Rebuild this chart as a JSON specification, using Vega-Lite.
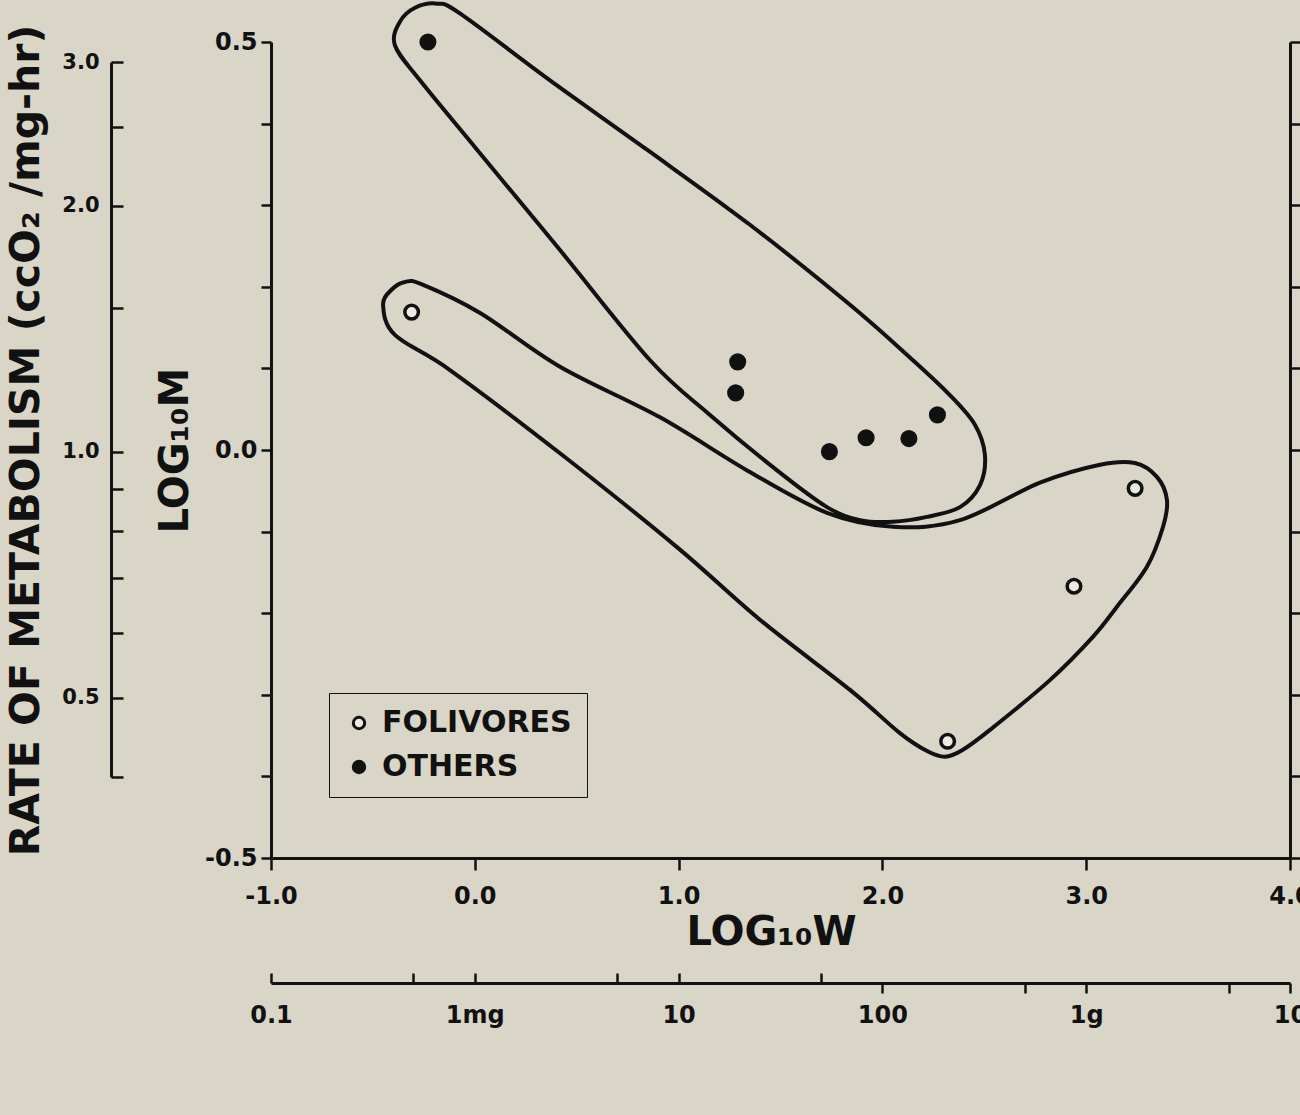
{
  "$schema": "https://vega.github.io/schema/vega-lite/v6.json",
  "width": 1019,
  "height": 816,
  "autosize": "none",
  "padding": {"left": 271, "top": 42, "right": 10, "bottom": 257},
  "background": "#d9d6c7",
  "config": {
    "view": {"stroke": null},
    "font": "DejaVu Sans",
    "axis": {
      "grid": false,
      "domainColor": "#111111",
      "tickColor": "#111111",
      "labelColor": "#111111",
      "titleColor": "#111111",
      "labelFont": "DejaVu Sans",
      "titleFont": "DejaVu Sans",
      "labelFontWeight": "bold",
      "titleFontWeight": "bold",
      "domainWidth": 3,
      "tickWidth": 2.5,
      "labelFlush": false,
      "labelOverlap": false
    }
  },
  "datasets": {
    "hulls": [
      {"group": "OTHERS", "ord": 1, "x": -0.392, "y": 0.496},
      {"group": "OTHERS", "ord": 2, "x": -0.367, "y": 0.525},
      {"group": "OTHERS", "ord": 3, "x": -0.293, "y": 0.542},
      {"group": "OTHERS", "ord": 4, "x": -0.185, "y": 0.547},
      {"group": "OTHERS", "ord": 5, "x": -0.073, "y": 0.535},
      {"group": "OTHERS", "ord": 6, "x": 0.369, "y": 0.453},
      {"group": "OTHERS", "ord": 7, "x": 0.845, "y": 0.368},
      {"group": "OTHERS", "ord": 8, "x": 1.35, "y": 0.276},
      {"group": "OTHERS", "ord": 9, "x": 1.841, "y": 0.178},
      {"group": "OTHERS", "ord": 10, "x": 2.15, "y": 0.11},
      {"group": "OTHERS", "ord": 11, "x": 2.332, "y": 0.067},
      {"group": "OTHERS", "ord": 12, "x": 2.454, "y": 0.031},
      {"group": "OTHERS", "ord": 13, "x": 2.503, "y": -0.006},
      {"group": "OTHERS", "ord": 14, "x": 2.479, "y": -0.043},
      {"group": "OTHERS", "ord": 15, "x": 2.381, "y": -0.07},
      {"group": "OTHERS", "ord": 16, "x": 2.219, "y": -0.082},
      {"group": "OTHERS", "ord": 17, "x": 2.052, "y": -0.088},
      {"group": "OTHERS", "ord": 18, "x": 1.89, "y": -0.086},
      {"group": "OTHERS", "ord": 19, "x": 1.728, "y": -0.07},
      {"group": "OTHERS", "ord": 20, "x": 1.483, "y": -0.025},
      {"group": "OTHERS", "ord": 21, "x": 1.154, "y": 0.043},
      {"group": "OTHERS", "ord": 22, "x": 0.86, "y": 0.11},
      {"group": "OTHERS", "ord": 23, "x": 0.418, "y": 0.245},
      {"group": "OTHERS", "ord": 24, "x": 0.011, "y": 0.368},
      {"group": "OTHERS", "ord": 25, "x": -0.269, "y": 0.453},
      {"group": "FOLIVORES", "ord": 1, "x": -0.45, "y": 0.178},
      {"group": "FOLIVORES", "ord": 2, "x": -0.406, "y": 0.197},
      {"group": "FOLIVORES", "ord": 3, "x": -0.342, "y": 0.206},
      {"group": "FOLIVORES", "ord": 4, "x": -0.259, "y": 0.203},
      {"group": "FOLIVORES", "ord": 5, "x": 0.026, "y": 0.168},
      {"group": "FOLIVORES", "ord": 6, "x": 0.418, "y": 0.102},
      {"group": "FOLIVORES", "ord": 7, "x": 0.909, "y": 0.04},
      {"group": "FOLIVORES", "ord": 8, "x": 1.336, "y": -0.025},
      {"group": "FOLIVORES", "ord": 9, "x": 1.728, "y": -0.077},
      {"group": "FOLIVORES", "ord": 10, "x": 2.052, "y": -0.094},
      {"group": "FOLIVORES", "ord": 11, "x": 2.381, "y": -0.086},
      {"group": "FOLIVORES", "ord": 12, "x": 2.773, "y": -0.04},
      {"group": "FOLIVORES", "ord": 13, "x": 3.068, "y": -0.018},
      {"group": "FOLIVORES", "ord": 14, "x": 3.239, "y": -0.016},
      {"group": "FOLIVORES", "ord": 15, "x": 3.347, "y": -0.033},
      {"group": "FOLIVORES", "ord": 16, "x": 3.396, "y": -0.061},
      {"group": "FOLIVORES", "ord": 17, "x": 3.377, "y": -0.094},
      {"group": "FOLIVORES", "ord": 18, "x": 3.298, "y": -0.143},
      {"group": "FOLIVORES", "ord": 19, "x": 3.151, "y": -0.192},
      {"group": "FOLIVORES", "ord": 20, "x": 3.033, "y": -0.229},
      {"group": "FOLIVORES", "ord": 21, "x": 2.822, "y": -0.282},
      {"group": "FOLIVORES", "ord": 22, "x": 2.528, "y": -0.343},
      {"group": "FOLIVORES", "ord": 23, "x": 2.391, "y": -0.368},
      {"group": "FOLIVORES", "ord": 24, "x": 2.307, "y": -0.376},
      {"group": "FOLIVORES", "ord": 25, "x": 2.219, "y": -0.369},
      {"group": "FOLIVORES", "ord": 26, "x": 2.086, "y": -0.347},
      {"group": "FOLIVORES", "ord": 27, "x": 1.841, "y": -0.294},
      {"group": "FOLIVORES", "ord": 28, "x": 1.399, "y": -0.208},
      {"group": "FOLIVORES", "ord": 29, "x": 0.992, "y": -0.119},
      {"group": "FOLIVORES", "ord": 30, "x": 0.418, "y": -0.004},
      {"group": "FOLIVORES", "ord": 31, "x": -0.122, "y": 0.098},
      {"group": "FOLIVORES", "ord": 32, "x": -0.392, "y": 0.141}
    ],
    "points": [
      {"group": "FOLIVORES", "logW": -0.31, "logM": 0.169},
      {"group": "FOLIVORES", "logW": 2.32, "logM": -0.357},
      {"group": "FOLIVORES", "logW": 2.94, "logM": -0.167},
      {"group": "FOLIVORES", "logW": 3.24, "logM": -0.047},
      {"group": "OTHERS", "logW": -0.23, "logM": 0.5},
      {"group": "OTHERS", "logW": 1.29, "logM": 0.108},
      {"group": "OTHERS", "logW": 1.28, "logM": 0.07},
      {"group": "OTHERS", "logW": 1.74, "logM": -0.002},
      {"group": "OTHERS", "logW": 1.92, "logM": 0.015},
      {"group": "OTHERS", "logW": 2.13, "logM": 0.014},
      {"group": "OTHERS", "logW": 2.27, "logM": 0.043}
    ],
    "rate": [{"rate": 0.4}, {"rate": 3.0}],
    "weight": [{"mg": 0.1}, {"mg": 10000}]
  },
  "layer": [
    {
      "data": {"name": "hulls"},
      "mark": {"type": "line", "interpolate": "cardinal-closed", "stroke": "#111111", "strokeWidth": 4, "clip": false},
      "encoding": {
        "x": {
          "field": "x", "type": "quantitative",
          "scale": {"domain": [-1, 4], "nice": false, "zero": false},
          "axis": {
            "values": [-1, 0, 1, 2, 3, 4],
            "tickSize": 12,
            "labelPadding": 14,
            "labelFontSize": 24,
            "labelExpr": "datum.value < 0 ? '-' + format(-datum.value, '.1f') : format(datum.value, '.1f')",
            "title": "LOG₁₀W",
            "titleFontSize": 40,
            "titleX": 500,
            "titleY": 54,
            "titleAlign": "center",
            "titleBaseline": "top"
          }
        },
        "y": {
          "field": "y", "type": "quantitative",
          "scale": {"domain": [-0.5, 0.5], "nice": false, "zero": false},
          "axis": {
            "orient": "left",
            "values": [-0.5, -0.4, -0.3, -0.2, -0.1, 0, 0.1, 0.2, 0.3, 0.4, 0.5],
            "tickSize": 10,
            "labelPadding": 4,
            "labelFontSize": 24,
            "labelExpr": "abs(datum.value) < 0.001 ? '0.0' : abs(abs(datum.value) - 0.5) < 0.001 ? (datum.value < 0 ? '-0.5' : '0.5') : ''",
            "title": "LOG₁₀M",
            "titleFontSize": 40,
            "titleX": -96,
            "titleY": 408,
            "titleAngle": -90,
            "titleAlign": "center",
            "titleBaseline": "middle"
          }
        },
        "detail": {"field": "group", "type": "nominal"},
        "order": {"field": "ord", "type": "quantitative"}
      }
    },
    {
      "data": {"name": "points"},
      "mark": {"type": "point", "filled": true, "stroke": "#111111", "strokeWidth": 3.5, "size": 185, "opacity": 1, "clip": false},
      "encoding": {
        "x": {
          "field": "logW", "type": "quantitative",
          "scale": {"domain": [-1, 4], "nice": false, "zero": false},
          "axis": null
        },
        "y": {
          "field": "logM", "type": "quantitative",
          "scale": {"domain": [-0.5, 0.5], "nice": false, "zero": false},
          "axis": {
            "orient": "right",
            "values": [-0.5, -0.4, -0.3, -0.2, -0.1, 0, 0.1, 0.2, 0.3, 0.4, 0.5],
            "tickSize": 10,
            "labels": false,
            "title": null
          }
        },
        "fill": {
          "field": "group", "type": "nominal",
          "scale": {"domain": ["FOLIVORES", "OTHERS"], "range": ["#ecebe2", "#111111"]},
          "legend": {
            "orient": "none",
            "legendX": 58,
            "legendY": 651,
            "title": null,
            "labelFont": "DejaVu Sans",
            "labelFontWeight": "bold",
            "labelFontSize": 30,
            "labelLimit": 500,
            "labelColor": "#111111",
            "symbolType": "circle",
            "symbolSize": 130,
            "symbolStrokeColor": "#111111",
            "symbolStrokeWidth": 3,
            "symbolOffset": 0,
            "labelOffset": 8,
            "strokeColor": "#111111",
            "padding": 15,
            "rowPadding": 14
          }
        }
      }
    },
    {
      "data": {"name": "rate"},
      "mark": {"type": "point", "opacity": 0},
      "encoding": {
        "y": {
          "field": "rate", "type": "quantitative",
          "scale": {"type": "log", "domain": [0.4, 3.0], "range": [735, 20], "nice": false, "zero": false},
          "axis": {
            "orient": "left",
            "offset": 160,
            "values": [0.4, 0.5, 0.6, 0.7, 0.8, 0.9, 1, 1.5, 2, 2.5, 3],
            "tickSize": -12,
            "labelPadding": 24,
            "labelFontSize": 21,
            "labelExpr": "datum.value == 0.5 ? '0.5' : datum.value == 1 ? '1.0' : datum.value == 2 ? '2.0' : datum.value == 3 ? '3.0' : ''",
            "title": "RATE OF METABOLISM  (ccO₂ /mg-hr)",
            "titleFontSize": 41,
            "titleX": -85,
            "titleY": 398,
            "titleAngle": -90,
            "titleAlign": "center",
            "titleBaseline": "middle"
          }
        }
      }
    },
    {
      "data": {"name": "weight"},
      "mark": {"type": "point", "opacity": 0},
      "encoding": {
        "x": {
          "field": "mg", "type": "quantitative",
          "scale": {"type": "log", "domain": [0.1, 10000], "nice": false, "zero": false},
          "axis": {
            "orient": "bottom",
            "offset": 125,
            "values": [0.1, 0.5, 1, 5, 10, 50],
            "tickSize": -10,
            "labelPadding": 30,
            "labelFontSize": 24,
            "labelExpr": "datum.value == 0.1 ? '0.1' : datum.value == 1 ? '1mg' : datum.value == 10 ? '10' : ''",
            "title": null
          }
        }
      }
    },
    {
      "data": {"name": "weight"},
      "mark": {"type": "point", "opacity": 0},
      "encoding": {
        "x": {
          "field": "mg", "type": "quantitative",
          "scale": {"type": "log", "domain": [0.1, 10000], "nice": false, "zero": false},
          "axis": {
            "orient": "bottom",
            "offset": 125,
            "domain": false,
            "values": [100, 500, 1000, 5000, 10000],
            "tickSize": 10,
            "labelPadding": 10,
            "labelFontSize": 24,
            "labelExpr": "datum.value == 100 ? '100' : datum.value == 1000 ? '1g' : datum.value == 10000 ? '10' : ''",
            "title": null
          }
        }
      }
    }
  ],
  "resolve": {"scale": {"x": "independent", "y": "independent", "fill": "independent"}}
}
